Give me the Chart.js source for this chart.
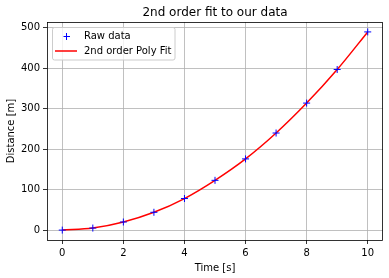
<!DOCTYPE html>
<html>
<head>
<meta charset="utf-8">
<script src="https://cdn.jsdelivr.net/npm/chart.js@4"></script>
<style>
  html, body { margin: 0; padding: 0; background: #fff; }
  #wrap { width: 389px; height: 278px; }
</style>
</head>
<body>
<div id="wrap"><canvas id="fitChart" width="389" height="278"></canvas></div>
<script>
// values
const timeSec = [0, 1, 2, 3, 4, 5, 6, 7, 8, 9, 10];
const rawDistance = [0, 5, 20, 44, 78, 123, 176, 240, 314, 397, 490];
const fitDistance = [0, 5, 20, 44, 78, 123, 176, 240, 314, 397, 490];
const xTicks = [0, 2, 4, 6, 8, 10];
const yTicks = [0, 100, 200, 300, 400, 500];

const FONT = "'DejaVu Sans', sans-serif";

// title, legend box and frame drawn like matplotlib
const mplDecor = {
    id: 'mplDecor',
    afterDraw(chart) {
        const ctx = chart.ctx;
        const a = chart.chartArea;
        ctx.save();
        // frame
        ctx.strokeStyle = '#000';
        ctx.lineWidth = 0.8;
        ctx.strokeRect(Math.round(a.left) + 0.5, Math.round(a.top) + 0.5,
            Math.round(a.right - a.left) - 1, Math.round(a.bottom - a.top));
        // title
        ctx.fillStyle = '#000';
        ctx.font = '12px ' + FONT;
        ctx.textAlign = 'center';
        ctx.textBaseline = 'middle';
        ctx.fillText('2nd order fit to our data', (a.left + a.right) / 2, 13);
        // legend
        const lx = 52.5, ly = 27.5, lw = 122.5, lh = 32.5;
        ctx.beginPath();
        ctx.roundRect(lx, ly, lw, lh, 2);
        ctx.fillStyle = 'rgba(255,255,255,0.8)';
        ctx.fill();
        ctx.strokeStyle = '#cccccc';
        ctx.lineWidth = 1;
        ctx.stroke();
        const ds = chart.data.datasets;
        // marker entry
        ctx.strokeStyle = ds[0].borderColor;
        ctx.lineWidth = 1;
        ctx.beginPath();
        ctx.moveTo(63.5, 36.5); ctx.lineTo(70, 36.5);
        ctx.moveTo(66.5, 33); ctx.lineTo(66.5, 40);
        ctx.stroke();
        // line entry
        ctx.strokeStyle = ds[1].borderColor;
        ctx.lineWidth = 1.5;
        ctx.beginPath();
        ctx.moveTo(55, 51); ctx.lineTo(77, 51);
        ctx.stroke();
        ctx.fillStyle = '#000';
        ctx.font = '10px ' + FONT;
        ctx.textAlign = 'left';
        ctx.fillText(ds[0].label, 84, 36.5);
        ctx.fillText(ds[1].label, 84, 51.5);
        ctx.restore();
    }
};

new Chart(document.getElementById('fitChart'), {
    type: 'line',
    data: {
        datasets: [{
            label: 'Raw data',
            data: timeSec.map((t, i) => ({ x: t, y: rawDistance[i] })),
            showLine: false,
            borderColor: '#0000ff',
            backgroundColor: '#0000ff',
            pointStyle: 'cross',
            pointRadius: 3.5,
            pointBorderWidth: 1,
            order: 0
        }, {
            label: '2nd order Poly Fit',
            data: timeSec.map((t, i) => ({ x: t, y: fitDistance[i] })),
            borderColor: '#ff0000',
            borderWidth: 1.5,
            pointRadius: 0,
            cubicInterpolationMode: 'monotone',
            fill: false,
            order: 1
        }]
    },
    options: {
        responsive: false,
        animation: false,
        events: [],
        layout: { padding: { top: 22, right: 6, left: 0, bottom: 0 } },
        plugins: { legend: { display: false }, tooltip: { enabled: false }, title: { display: false } },
        scales: {
            x: {
                type: 'linear',
                min: -0.5, max: 10.5,
                afterBuildTicks: s => { s.ticks = xTicks.map(v => ({ value: v })); },
                afterFit: s => { s.height = 38; },
                grid: { color: '#b0b0b0', lineWidth: 0.8, tickColor: '#000', tickLength: 4 },
                border: { display: false },
                ticks: { color: '#000', font: { family: FONT, size: 10 }, padding: 3, maxRotation: 0 },
                title: { display: true, text: 'Time [s]', color: '#000', font: { family: FONT, size: 10 }, padding: { top: 0, bottom: 4 } }
            },
            y: {
                type: 'linear',
                min: -24.5, max: 514.5,
                afterBuildTicks: s => { s.ticks = yTicks.map(v => ({ value: v })); },
                afterFit: s => { s.width = 47; },
                grid: { color: '#b0b0b0', lineWidth: 0.8, tickColor: '#000', tickLength: 4 },
                border: { display: false },
                ticks: { color: '#000', font: { family: FONT, size: 10 }, padding: 3 },
                title: { display: true, text: 'Distance [m]', color: '#000', font: { family: FONT, size: 10 }, padding: { top: 5, bottom: 0 } }
            }
        }
    },
    plugins: [mplDecor]
});
</script>
</body>
</html>
